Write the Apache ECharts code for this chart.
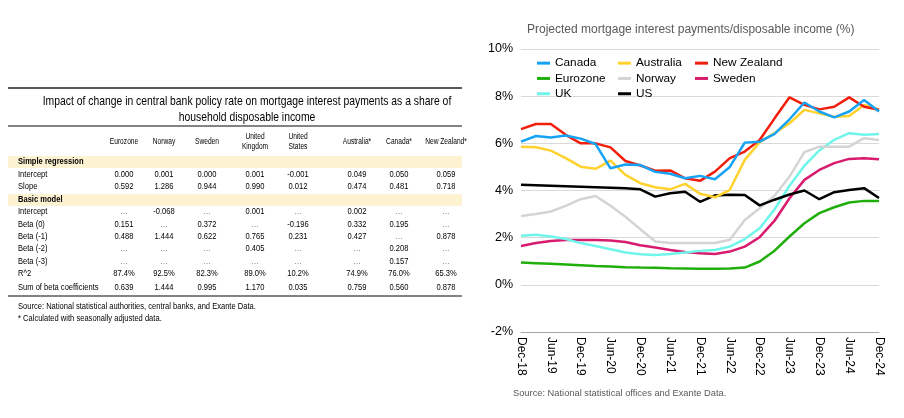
<!DOCTYPE html>
<html>
<head>
<meta charset="utf-8">
<script src="https://cdn.jsdelivr.net/npm/echarts@6/dist/echarts.min.js"></script>
<style>
html,body{margin:0;padding:0;background:#fff;}
#main{width:904px;height:418px;}
</style>
</head>
<body>
<div id="main"></div>
<script>
// ---------- Line chart data ----------
var dates = ['Dec-18','Mar-19','Jun-19','Sep-19','Dec-19','Mar-20','Jun-20','Sep-20','Dec-20','Mar-21','Jun-21','Sep-21','Dec-21','Mar-22','Jun-22','Sep-22','Dec-22','Mar-23','Jun-23','Sep-23','Dec-23','Mar-24','Jun-24','Sep-24','Dec-24'];
var canada     = [6.07,6.31,6.25,6.33,6.20,5.97,4.94,5.10,5.08,4.79,4.71,4.52,4.62,4.48,5.00,6.03,6.07,6.40,7.02,7.73,7.35,7.10,7.35,7.84,7.35];
var australia  = [5.86,5.83,5.69,5.37,5.01,4.92,5.27,4.66,4.31,4.14,4.05,4.28,3.86,3.71,4.03,5.30,6.05,6.43,6.85,7.42,7.27,7.13,7.16,7.63,7.44];
var newZealand = [6.60,6.82,6.82,6.36,6.00,6.00,5.83,5.25,5.06,4.84,4.85,4.52,4.41,4.80,5.37,5.65,6.14,7.06,7.95,7.63,7.44,7.55,7.95,7.55,7.42];
var eurozone   = [0.95,0.92,0.89,0.86,0.83,0.80,0.78,0.75,0.73,0.72,0.70,0.69,0.68,0.68,0.69,0.73,0.99,1.45,2.05,2.61,3.04,3.29,3.49,3.56,3.56];
var norway     = [2.92,3.00,3.11,3.35,3.63,3.77,3.35,2.89,2.36,1.84,1.77,1.77,1.77,1.77,1.91,2.75,3.25,3.78,4.59,5.63,5.86,5.86,5.86,6.22,6.14];
var sweden     = [1.65,1.77,1.86,1.90,1.90,1.90,1.88,1.82,1.68,1.58,1.48,1.39,1.34,1.31,1.41,1.62,2.02,2.72,3.67,4.45,4.87,5.16,5.34,5.37,5.33];
var uk         = [2.08,2.12,2.05,1.94,1.77,1.65,1.51,1.37,1.30,1.27,1.31,1.37,1.44,1.48,1.62,1.94,2.40,3.20,4.20,5.05,5.70,6.15,6.43,6.36,6.40];
var us         = [4.24,4.22,4.20,4.18,4.16,4.14,4.12,4.10,4.05,3.74,3.88,3.95,3.52,3.79,3.82,3.81,3.37,3.61,3.83,4.00,3.63,3.93,4.02,4.10,3.68];

var chartTitle = 'Projected mortgage interest payments/disposable income (%)';
var chartSource = 'Source: National statistical offices and Exante Data.';

// ---------- Table data ----------
var tableTitle = ['Impact of change in central bank policy rate on mortgage interest payments as a share of', 'household disposable income'];
var tableColumns = ['Eurozone','Norway','Sweden','United\nKingdom','United\nStates','Australia*','Canada*','New Zealand*'];
var sectionSimple = 'Simple regression';
var simpleRows = [
  ['Intercept', '0.000','0.001','0.000','0.001','-0.001','0.049','0.050','0.059'],
  ['Slope',     '0.592','1.286','0.944','0.990','0.012','0.474','0.481','0.718']
];
var sectionBasic = 'Basic model';
var basicRows = [
  ['Intercept', '…','-0.068','…','0.001','…','0.002','…','…'],
  ['Beta (0)',  '0.151','…','0.372','…','-0.196','0.332','0.195','…'],
  ['Beta (-1)', '0.488','1.444','0.622','0.765','0.231','0.427','…','0.878'],
  ['Beta (-2)', '…','…','…','0.405','…','…','0.208','…'],
  ['Beta (-3)', '…','…','…','…','…','…','0.157','…']
];
var r2Row  = ['R^2', '87.4%','92.5%','82.3%','89.0%','10.2%','74.9%','76.0%','65.3%'];
var sumRow = ['Sum of beta coefficients', '0.639','1.444','0.995','1.170','0.035','0.759','0.560','0.878'];
var tableNotes = ['Source: National statistical authorities, central banks, and Exante Data.', '* Calculated with seasonally adjusted data.'];

// ---------- Layout / styling ----------
var TF = '"Liberation Sans", Arial, sans-serif';
var CF = '"Liberation Sans", Arial, sans-serif';
var colX = [124,164,207,255,298,357,399,446];
var labelX = 18;
var g = [];
function txt(t, x, y, opt) {
  opt = opt || {};
  g.push({type:'text', silent:true, z:10, x:x, y:y, scaleX: opt.sx || 1, style:{
    text:t, x:0, y:0,
    textAlign: opt.align || 'left', textVerticalAlign:'middle',
    fontSize: opt.size || 8.5, fontFamily: opt.font || TF,
    fontWeight: opt.weight || 'normal', fill: opt.color || '#000',
    lineHeight: opt.lh || undefined
  }});
}
function hline(y, x1, x2, w, c) {
  g.push({type:'line', silent:true, shape:{x1:x1,y1:y,x2:x2,y2:y}, style:{stroke:c, lineWidth:w}});
}
function band(y, h) {
  g.push({type:'rect', silent:true, shape:{x:8,y:y,width:454,height:h}, style:{fill:'#fdf3d3'}});
}
var NS = 0.84; // narrow scale
// borders
hline(88, 8, 462, 2, '#5a5a5a');
txt(tableTitle[0], 247, 101, {align:'center', size:12.8, sx:0.81});
txt(tableTitle[1], 247, 117, {align:'center', size:12.8, sx:0.81});
hline(126, 8, 462, 1.5, '#5a5a5a');
tableColumns.forEach(function(c,i){ txt(c, colX[i], 142, {align:'center', lh:10, size:8.3, sx:0.8}); });
function row(r, y) {
  txt(r[0], labelX, y, {size:9, sx:NS});
  for (var i=1;i<r.length;i++) txt(r[i], colX[i-1], y, {align:'center', size:9, sx:NS, color: r[i]==='…' ? '#777' : '#000'});
}
band(156, 12);
txt(sectionSimple, labelX, 162, {weight:'bold', size:9, sx:NS});
row(simpleRows[0], 175);
row(simpleRows[1], 187);
band(194, 12);
txt(sectionBasic, labelX, 200, {weight:'bold', size:9, sx:NS});
var by = [212, 224.5, 237, 249, 261.5];
basicRows.forEach(function(r,i){ row(r, by[i]); });
row(r2Row, 274);
row(sumRow, 288);
hline(296, 8, 462, 1.5, '#5a5a5a');
txt(tableNotes[0], labelX, 306.5, {size:9, sx:NS});
txt(tableNotes[1], labelX, 318.5, {size:9, sx:NS});
// chart source
txt(chartSource, 513, 393, {size:9.3, font:CF, color:'#595959'});

var colors = {'Canada':'#16a2f5','Australia':'#ffd22e','New Zealand':'#f21e0c','Eurozone':'#1fae0a','Norway':'#d4d4d4','Sweden':'#d81b6e','UK':'#6ff5ea','US':'#000000'};
var dataMap = {'Canada':canada,'Australia':australia,'New Zealand':newZealand,'Eurozone':eurozone,'Norway':norway,'Sweden':sweden,'UK':uk,'US':us};
var drawOrder = ['Eurozone','Sweden','UK','Norway','US','Australia','New Zealand','Canada'];

var series = drawOrder.map(function(n){
  return {name:n, type:'line', data:dataMap[n], showSymbol:false, symbol:'none',
    lineStyle:{width:2.5, color:colors[n]}, itemStyle:{color:colors[n]}};
});

function legendCol(left, items) {
  return {orient:'vertical', left:left, top:55.5, data:items, icon:'rect', itemWidth:13, itemHeight:3,
    itemGap:0, padding:0, textStyle:{fontSize:11.8, fontFamily:CF, color:'#000', lineHeight:15.3}};
}

var chart = echarts.init(document.getElementById('main'));
chart.setOption({
  animation:false,
  title:{text:chartTitle, left:527, top:24, padding:0, textStyle:{fontSize:12, fontWeight:'normal', color:'#595959', fontFamily:CF}},
  legend:[legendCol(537,['Canada','Eurozone','UK']), legendCol(618,['Australia','Norway','US']), legendCol(695,['New Zealand','Sweden'])],
  grid:{left:521, right:25, top:49, bottom:86},
  xAxis:{type:'category', data:dates, boundaryGap:false,
    axisLine:{onZero:false, lineStyle:{color:'#a6a6a6', width:1}}, axisTick:{show:false},
    axisLabel:{interval:1, rotate:-90, fontSize:12, fontFamily:CF, color:'#000', margin:5}},
  yAxis:{type:'value', min:-2, max:10, interval:2,
    axisLabel:{formatter:'{value}%', fontSize:12.5, fontFamily:CF, color:'#000', margin:8},
    axisLine:{show:false}, axisTick:{show:false},
    splitLine:{lineStyle:{color:'#d9d9d9', width:1}}},
  series:series,
  graphic:g
});
</script>
</body>
</html>
